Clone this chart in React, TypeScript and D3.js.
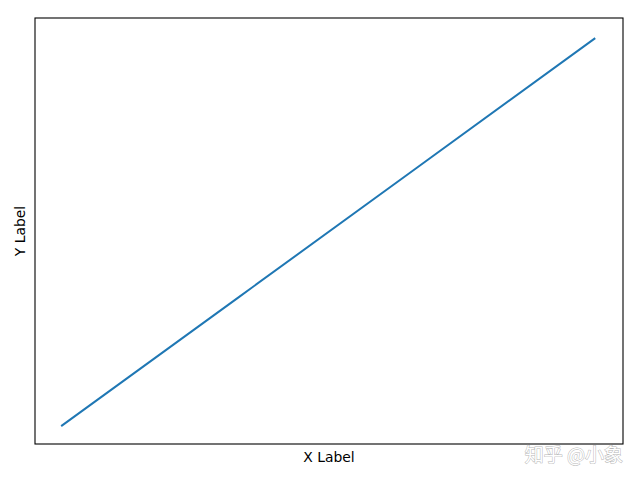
import { useEffect, useRef } from 'react';
import * as d3 from 'd3';

// Line data (simple linear plot)
const xValues = [1, 2, 3, 4];
const yValues = [1, 2, 3, 4];

const xLabel = 'X Label';
const yLabel = 'Y Label';
const watermark = '知乎 @小象';

export default function App() {
    const svgRef = useRef<SVGSVGElement>(null);

    useEffect(() => {
        if (!svgRef.current) return;
        document.body.style.margin = '0';

        const svg = d3.select(svgRef.current);
        svg.selectAll('*').remove();

        const width = 640;
        const height = 480;
        const margin = { top: 18, right: 17, bottom: 36, left: 35 };
        const innerW = width - margin.left - margin.right;
        const innerH = height - margin.top - margin.bottom;

        svg.attr('width', width).attr('height', height);

        const g = svg.append('g').attr('transform', `translate(${margin.left},${margin.top})`);

        // matplotlib-like margins around the data
        const xExt = d3.extent(xValues) as [number, number];
        const yExt = d3.extent(yValues) as [number, number];
        const xSpan = xExt[1] - xExt[0];
        const ySpan = yExt[1] - yExt[0];

        const x = d3.scaleLinear()
            .domain([xExt[0] - xSpan * 0.049, xExt[1] + xSpan * 0.052])
            .range([0, innerW]);
        const y = d3.scaleLinear()
            .domain([yExt[0] - ySpan * 0.046, yExt[1] + ySpan * 0.052])
            .range([innerH, 0]);

        const points = xValues.map((v, i) => [v, yValues[i]] as [number, number]);

        const line = d3.line<[number, number]>()
            .x(d => x(d[0]))
            .y(d => y(d[1]));

        g.append('path')
            .datum(points)
            .attr('fill', 'none')
            .attr('stroke', '#1f77b4')
            .attr('stroke-width', 2)
            .attr('d', line);

        // Axes frame
        g.append('rect')
            .attr('x', 0)
            .attr('y', 0)
            .attr('width', innerW)
            .attr('height', innerH)
            .attr('fill', 'none')
            .attr('stroke', '#000')
            .attr('stroke-width', 1.1);

        // Labels
        svg.append('text')
            .attr('x', margin.left + innerW / 2)
            .attr('y', height - 18)
            .attr('text-anchor', 'middle')
            .style('font-family', 'DejaVu Sans')
            .style('font-size', '13.9px')
            .text(xLabel);

        svg.append('text')
            .attr('transform', `translate(25,${margin.top + innerH / 2}) rotate(-90)`)
            .attr('text-anchor', 'middle')
            .style('font-family', 'DejaVu Sans')
            .style('font-size', '13.9px')
            .text(yLabel);

        // Watermark
        svg.append('text')
            .attr('x', 623)
            .attr('y', 462)
            .attr('text-anchor', 'end')
            .style('font-family', 'Noto Sans CJK SC')
            .style('font-size', '19px')
            .attr('fill', '#fff')
            .attr('stroke', '#b8b8b8')
            .attr('stroke-width', 1)
            .attr('paint-order', 'stroke')
            .text(watermark);
    }, []);

    return <svg ref={svgRef} style={{ display: 'block' }} />;
}
